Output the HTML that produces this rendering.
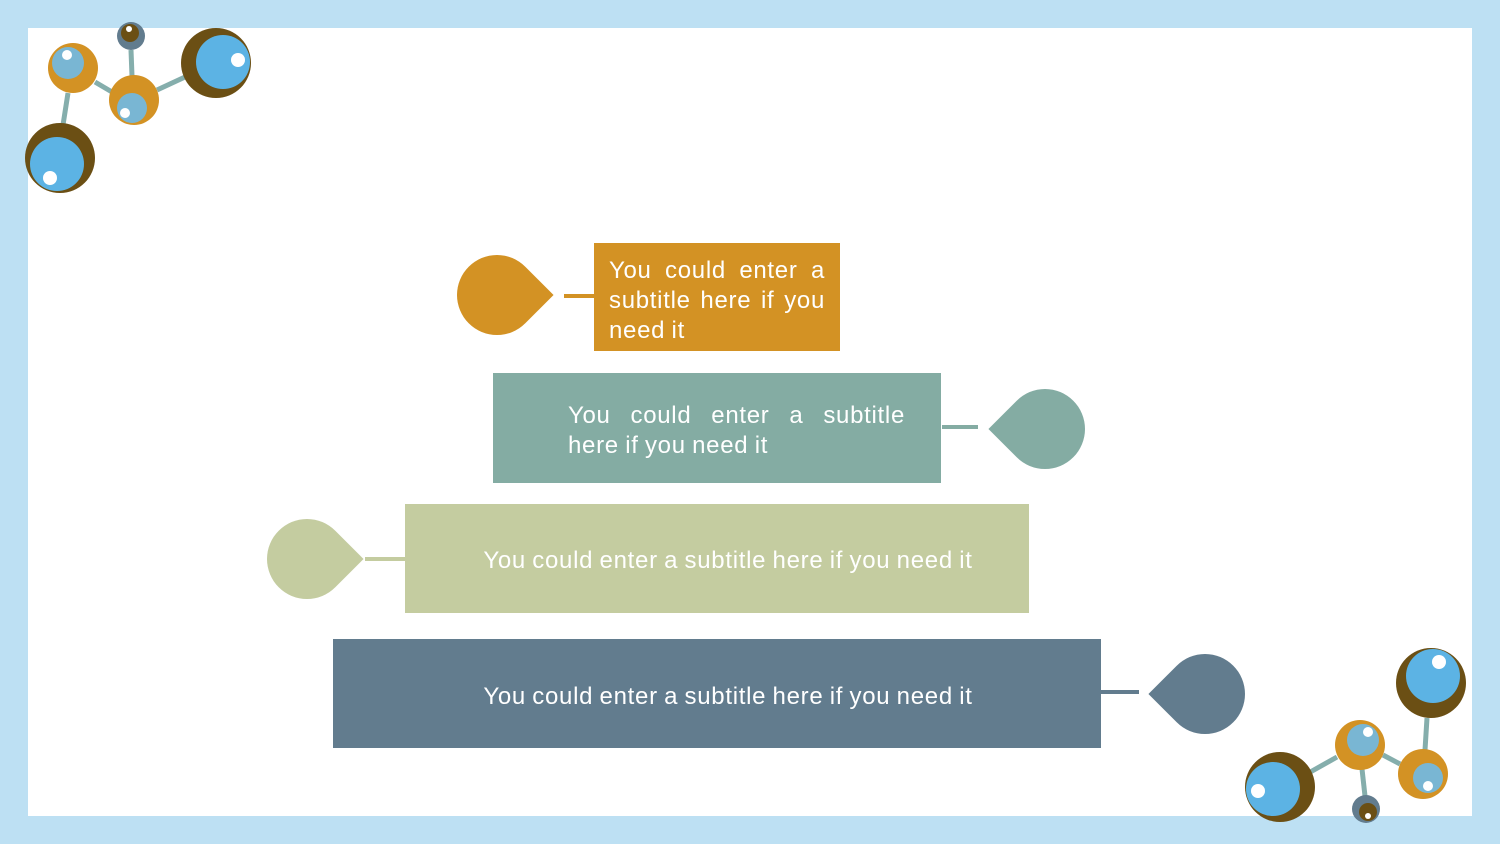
<!DOCTYPE html>
<html><head><meta charset="utf-8"><style>
html,body{margin:0;padding:0}
body{width:1500px;height:844px;background:#bde0f3;position:relative;overflow:hidden;font-family:"Liberation Sans",sans-serif}
.white{position:absolute;left:28px;top:28px;width:1444px;height:788px;background:#fff}
.box{position:absolute;color:#fff;font-size:24px;line-height:30px;box-sizing:border-box;letter-spacing:0.7px;word-spacing:-1px}
.j{display:block;text-align:justify;text-align-last:justify;white-space:nowrap}
.lft{display:block;text-align:left;white-space:nowrap}
.line{position:absolute;height:4px}
.drop{position:absolute;width:80px;height:80px;border-radius:50%}
.drop.r{border-top-right-radius:0;transform:rotate(45deg)}
.drop.l{border-bottom-left-radius:0;transform:rotate(45deg)}
svg{position:absolute;left:0;top:0}
</style></head><body>
<div class="white"></div>
<svg width="1500" height="844">
<g stroke="#85aeac" stroke-width="5">
<line x1="68" y1="93" x2="63" y2="125"/><line x1="95" y1="82" x2="112" y2="92"/>
<line x1="131" y1="50" x2="132" y2="76"/><line x1="157" y1="90" x2="185" y2="77"/>
<line x1="1305" y1="775" x2="1337" y2="757"/><line x1="1362" y1="769" x2="1365" y2="796"/>
<line x1="1383" y1="755" x2="1400" y2="764"/><line x1="1427" y1="718" x2="1425" y2="750"/>
</g>
<circle cx="60" cy="158" r="35" fill="#6b4f14"/><circle cx="57" cy="164" r="27" fill="#5cb3e4"/><circle cx="50" cy="178" r="7" fill="#fff"/>
<circle cx="73" cy="68" r="25" fill="#d39224"/><circle cx="68" cy="63" r="16" fill="#79b6d3"/><circle cx="67" cy="55" r="5" fill="#fff"/>
<circle cx="131" cy="36" r="14" fill="#627c8e"/><circle cx="130" cy="33" r="9" fill="#6b4f14"/><circle cx="129" cy="29" r="3" fill="#fff"/>
<circle cx="134" cy="100" r="25" fill="#d39224"/><circle cx="132" cy="108" r="15" fill="#79b6d3"/><circle cx="125" cy="113" r="5" fill="#fff"/>
<circle cx="216" cy="63" r="35" fill="#6b4f14"/><circle cx="223" cy="62" r="27" fill="#5cb3e4"/><circle cx="238" cy="60" r="7" fill="#fff"/>
<circle cx="1280" cy="787" r="35" fill="#6b4f14"/><circle cx="1273" cy="789" r="27" fill="#5cb3e4"/><circle cx="1258" cy="791" r="7" fill="#fff"/>
<circle cx="1360" cy="745" r="25" fill="#d39224"/><circle cx="1363" cy="740" r="16" fill="#79b6d3"/><circle cx="1368" cy="732" r="5" fill="#fff"/>
<circle cx="1366" cy="809" r="14" fill="#627c8e"/><circle cx="1368" cy="812" r="9" fill="#6b4f14"/><circle cx="1368" cy="816" r="3" fill="#fff"/>
<circle cx="1423" cy="774" r="25" fill="#d39224"/><circle cx="1428" cy="778" r="15" fill="#79b6d3"/><circle cx="1428" cy="786" r="5" fill="#fff"/>
<circle cx="1431" cy="683" r="35" fill="#6b4f14"/><circle cx="1433" cy="676" r="27" fill="#5cb3e4"/><circle cx="1439" cy="662" r="7" fill="#fff"/>
</svg>

<div class="drop r" style="left:457px;top:255px;background:#d39224"></div>
<div class="line" style="left:564px;top:294px;width:30px;background:#d39224"></div>
<div class="box" style="left:594px;top:243px;width:246px;height:108px;background:#d39224;padding:13px 15px 0 15px"><span class="j">You could enter a</span><span class="j">subtitle here if you</span><span class="lft">need it</span></div>

<div class="box" style="left:493px;top:373px;width:448px;height:110px;background:#84aca3;padding:28px 36px 0 75px"><span class="j">You could enter a subtitle</span><span class="lft">here if you need it</span></div>
<div class="line" style="left:942px;top:425px;width:36px;background:#84aca3"></div>
<div class="drop l" style="left:1005px;top:389px;background:#84aca3"></div>

<div class="drop r" style="left:267px;top:519px;background:#c4cca0"></div>
<div class="line" style="left:365px;top:557px;width:40px;background:#c4cca0"></div>
<div class="box" style="left:405px;top:504px;width:624px;height:109px;background:#c4cca0;padding-top:42px;padding-left:22px;text-align:center;white-space:nowrap">You could enter a subtitle here if you need it</div>

<div class="box" style="left:333px;top:639px;width:768px;height:109px;background:#627c8e;padding-top:43px;padding-left:22px;text-align:center;white-space:nowrap">You could enter a subtitle here if you need it</div>
<div class="line" style="left:1101px;top:690px;width:38px;background:#627c8e"></div>
<div class="drop l" style="left:1165px;top:654px;background:#627c8e"></div>
</body></html>
